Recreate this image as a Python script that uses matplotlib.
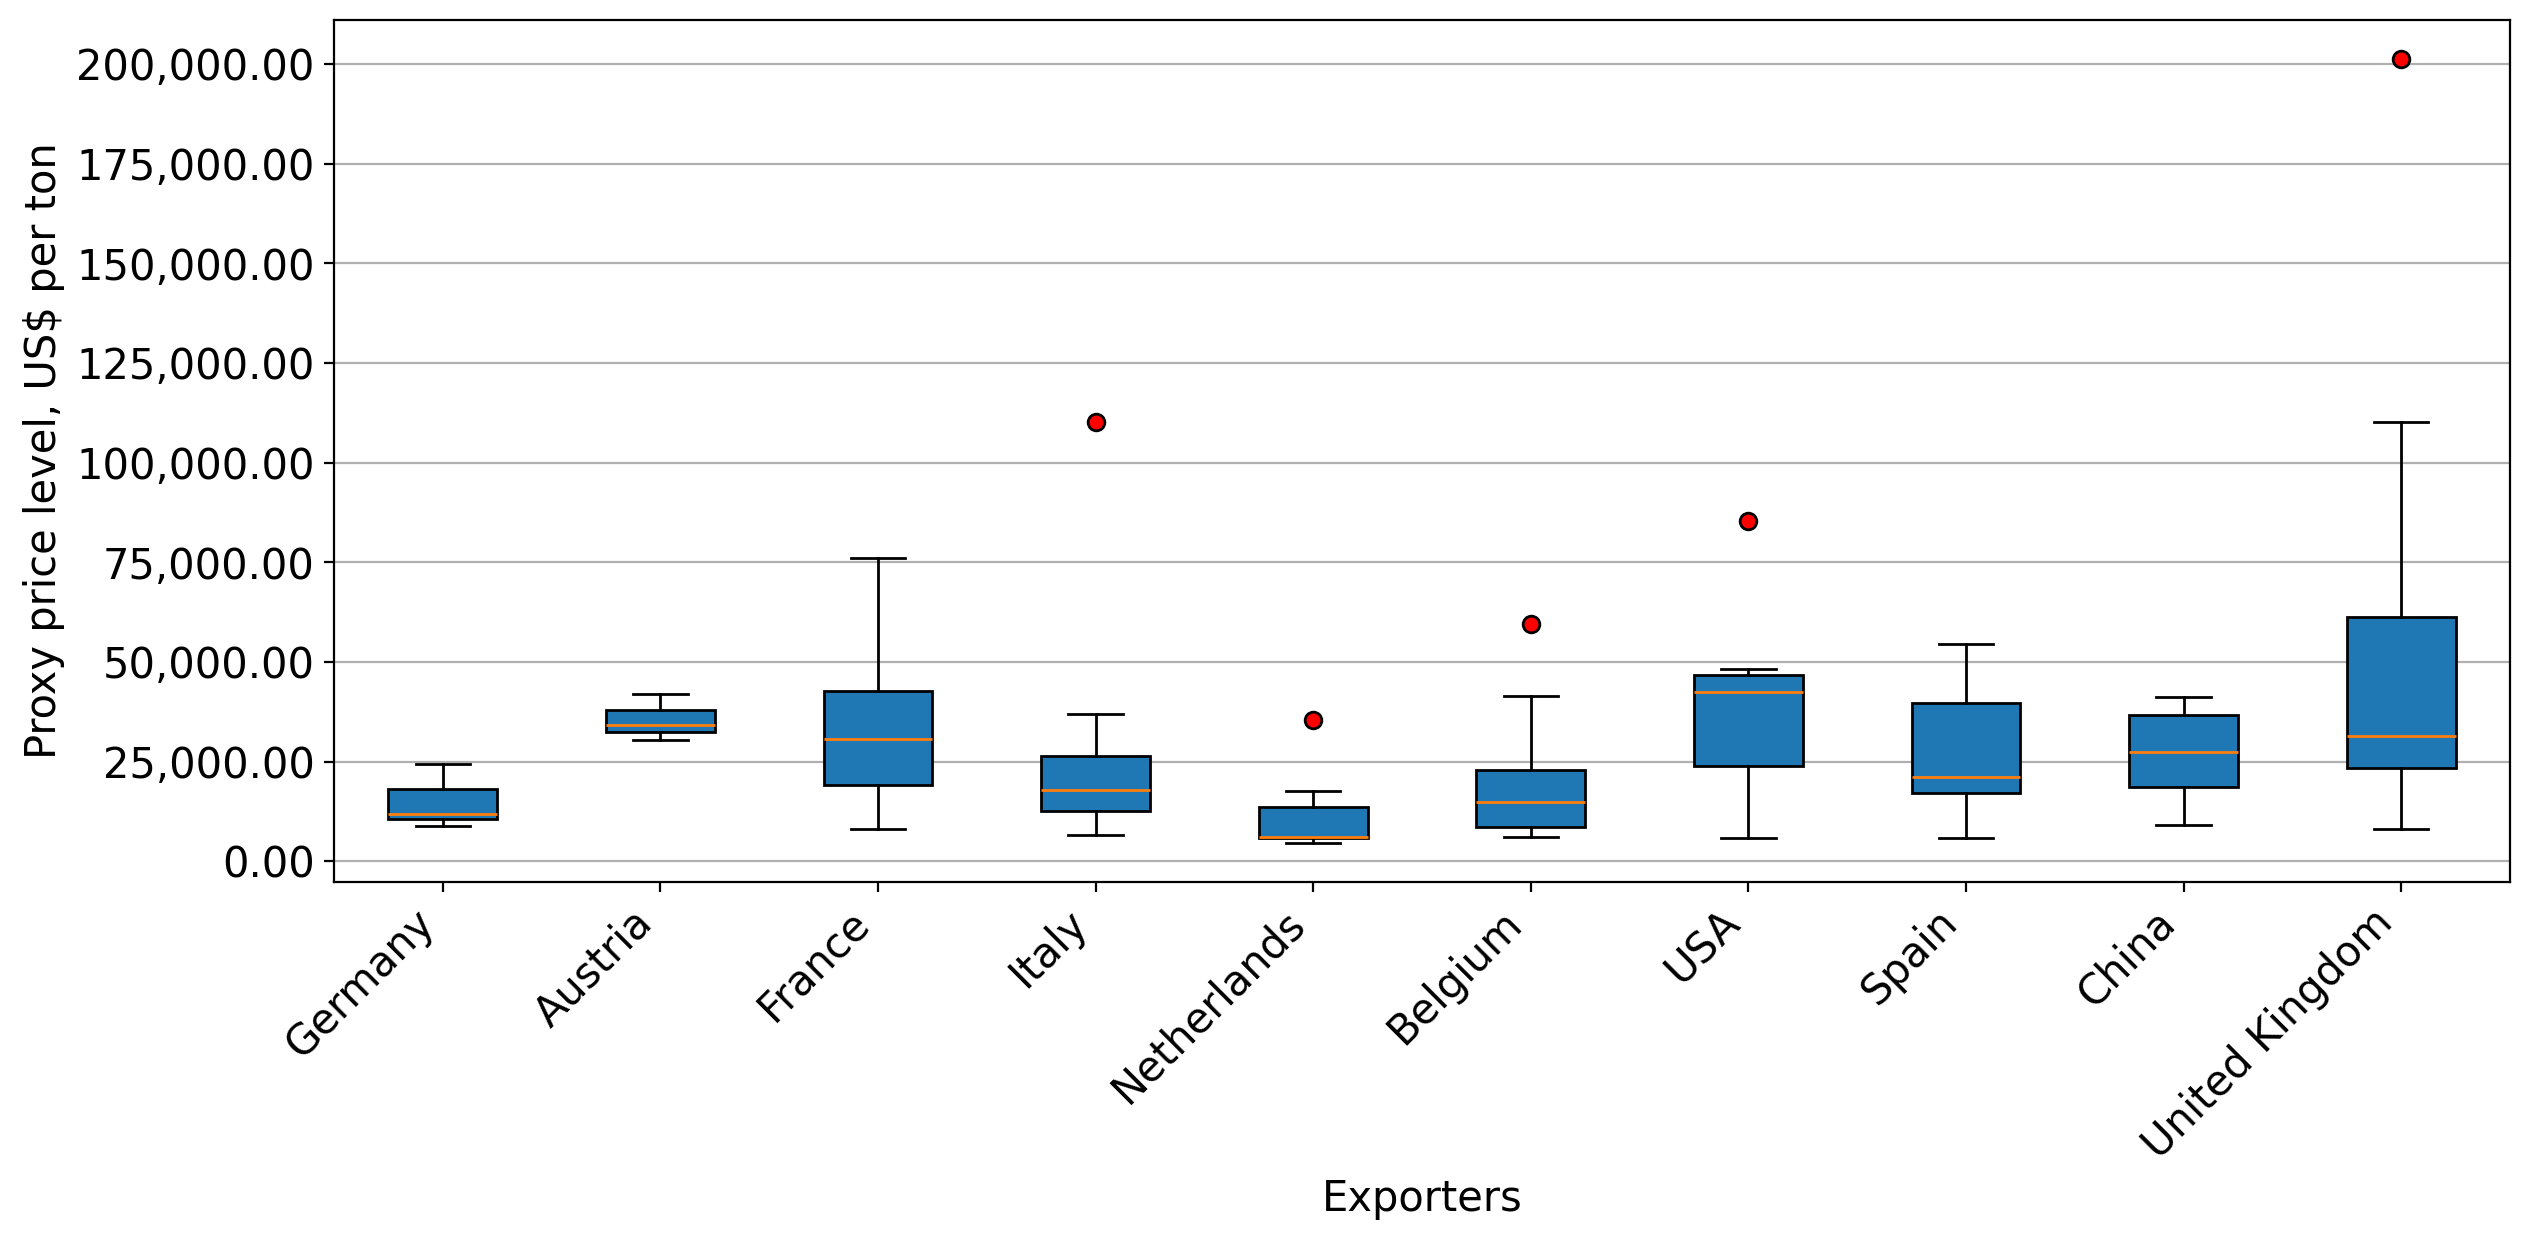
import matplotlib
matplotlib.use("Agg")
import matplotlib.pyplot as plt
from matplotlib.ticker import StrMethodFormatter

exporters = ["Germany", "Austria", "France", "Italy", "Netherlands",
             "Belgium", "USA", "Spain", "China", "United Kingdom"]
whis_low = [8900, 30500, 8100, 6600, 4600, 6100, 5900, 5900, 9000, 8200]
q1 = [10500, 32400, 19000, 12500, 5700, 8500, 24000, 17150, 18700, 23500]
medians = [11900, 34250, 30700, 17900, 6100, 14900, 42500, 21000, 27300, 31500]
q3 = [18000, 37850, 42600, 26400, 13650, 23000, 46600, 39600, 36600, 61200]
whis_high = [24500, 42000, 76000, 37000, 17700, 41500, 48300, 54600, 41100, 110100]
outliers = [[], [], [], [110200], [35500], [59400], [85400], [], [], [201200]]

stats = []
for name, lo, a, m, b, hi, fl in zip(exporters, whis_low, q1, medians, q3, whis_high, outliers):
    stats.append(dict(label=name, whislo=lo, q1=a, med=m, q3=b, whishi=hi, fliers=fl))

fig = plt.figure(figsize=(12.67, 6.215), dpi=200)
ax = fig.add_axes([0.1318, 0.2904, 0.9905 - 0.1318, 0.9839 - 0.2904])
ax.set_axisbelow(True)
ax.yaxis.grid(True)
ax.bxp(stats, patch_artist=True, showfliers=True,
       boxprops=dict(facecolor="#1f77b4", edgecolor="black"),
       flierprops=dict(marker="o", markerfacecolor="red", markeredgecolor="black"))
ax.yaxis.set_major_formatter(StrMethodFormatter("{x:,.2f}"))
ax.tick_params(labelsize=15)
plt.setp(ax.get_xticklabels(), rotation=45, ha="right")
ax.set_xlabel("Exporters", fontsize=15)
ax.set_ylabel("Proxy price level, US$ per ton", fontsize=15)
fig.savefig("out.png", dpi=200)
